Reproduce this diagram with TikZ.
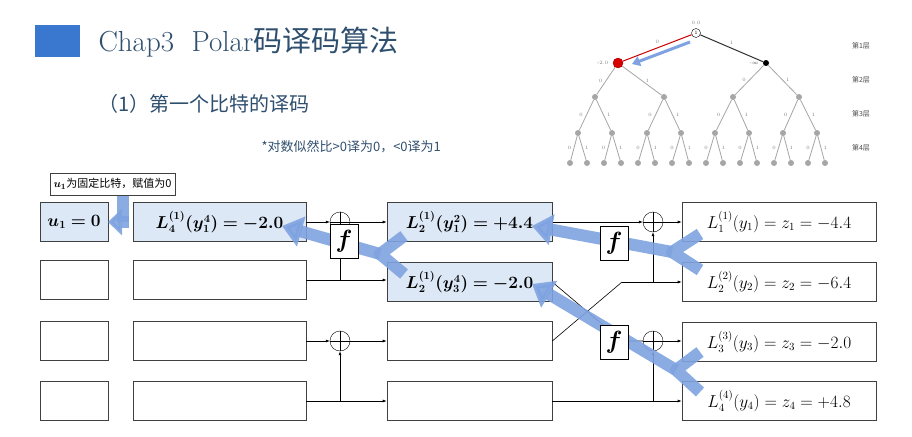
\documentclass[tikz,border=0pt]{standalone}
\usepackage{amsmath,bm}
\usepackage{fontspec}
\newfontfamily\cjk{Noto Sans CJK SC}
\usetikzlibrary{arrows.meta}
\definecolor{lb}{HTML}{DCE8F6}
\definecolor{ttl}{HTML}{2F4F6F}
\definecolor{sq}{HTML}{3A78D0}
\definecolor{ba}{HTML}{7FA3E0}
\begin{document}
\begin{tikzpicture}[x=1pt,y=-1pt,
  bx/.style={draw=black!75,line width=0.6pt,minimum height=39pt,inner sep=0pt,font=\fontsize{16}{18}\selectfont},
  c1/.style={bx,minimum width=68pt},
  c2/.style={bx,minimum width=173pt},
  c3/.style={bx,minimum width=165pt},
  c4/.style={bx,minimum width=194pt},
  hl/.style={fill=lb},
  xr/.style={draw,circle,minimum size=20pt,inner sep=0pt},
  fb/.style={draw,fill=white,minimum width=28pt,minimum height=34pt,inner sep=0pt,font=\fontsize{24}{26}\selectfont},
  ln/.style={line width=0.6pt,-{Latex[length=4pt]}},
  pl/.style={line width=0.6pt},
  tn/.style={circle,fill=black!35,inner sep=0pt,minimum size=6pt},
  te/.style={black!35,line width=0.8pt},
  tl/.style={font=\tiny,black!50},
  ba1/.style={ba,opacity=0.9,line width=12pt},
  bah/.style={ba1,-{Triangle[length=20pt,width=30pt]}}]
\useasboundingbox (0,0) rectangle (912,436);
\fill[white] (0,0) rectangle (912,436);
% title
\fill[sq] (35,25) rectangle (80,57);
\node[anchor=west,text=ttl,font=\fontsize{29}{31}\selectfont] (title) at (95,42) {Chap3\ \ Polar{\cjk 码译码算法}};
\node[anchor=west,text=ttl,font=\fontsize{20}{22}\selectfont\cjk] (sub) at (95,104) {（1）第一个比特的译码};
\node[anchor=west,text=ttl,font=\fontsize{13}{15}\selectfont\cjk] (note) at (258,147) {*对数似然比>0译为0，<0译为1};
% tree
\foreach \i/\x in {0/570,1/587,2/604,3/621,4/638,5/655,6/672,7/689,8/706,9/723,10/740,11/757,12/774,13/791,14/808,15/825}
  \node[tn] (d\i) at (\x,163) {};
\foreach \i/\x in {0/578,1/612,2/647,3/681,4/715,5/749,6/783,7/817}
  \node[tn] (c\i) at (\x,133) {};
\foreach \i/\x in {0/595,1/664,2/733,3/799}
  \node[tn] (b\i) at (\x,97) {};
\node[circle,fill=red!85!black,draw=red!60!black,minimum size=10pt,inner sep=0pt] (a0) at (618,63) {};
\node[circle,fill=black,minimum size=6pt,inner sep=0pt] (a1) at (766,63) {};
\node[circle,draw,fill=white,minimum size=9pt,inner sep=0pt,font=\tiny] (r) at (696,33) {1};
\node[tl,above=0pt] at (r.north) {0.0};
\node[tl,left=1pt] at (a0.west) {-2.0};
\node[tl,left=1pt] at (a1.west) {-∞};
\foreach \p/\l/\r in {b0/c0/c1,b1/c2/c3,b2/c4/c5,b3/c6/c7}{
  \draw[te] (\p)--(\l) node[midway,tl,left=0pt]{0}; \draw[te] (\p)--(\r) node[midway,tl,right=0pt]{1};}
\foreach \p/\l/\r in {c0/d0/d1,c1/d2/d3,c2/d4/d5,c3/d6/d7,c4/d8/d9,c5/d10/d11,c6/d12/d13,c7/d14/d15}{
  \draw[te] (\p)--(\l) node[midway,tl,left=-1pt]{0}; \draw[te] (\p)--(\r) node[midway,tl,right=-1pt]{1};}
\draw[te] (a0)--(b0) node[midway,tl,left=0pt]{0};
\draw[te] (a0)--(b1) node[midway,tl,right=0pt]{1};
\draw[te] (a1)--(b2) node[midway,tl,left=0pt]{0};
\draw[te] (a1)--(b3) node[midway,tl,right=0pt]{1};
\draw[red!80!black,line width=1pt] (r)--(a0) node[midway,tl,above=0pt]{0};
\draw[black!80,line width=1pt] (r)--(a1) node[midway,tl,above=0pt]{1};
\draw[ba,line width=3pt,-{Triangle[length=8pt,width=10pt]}] (690,42)--(632,64);
\foreach \k/\y in {1/46,2/80,3/114,4/148}
  \node[font=\fontsize{7}{8}\selectfont\cjk,text=black!70] (lay\k) at (861,\y) {第\k{}层};
% columns
\node[c1,hl] (u1) at (74,222) {$\bm{u_1=0}$};
\node[c1] (u2) at (74,280) {};
\node[c1] (u3) at (74,341) {};
\node[c1] (u4) at (74,401) {};
\node[c2,hl] (p1) at (219.5,222) {$\bm{L_4^{(1)}(y_1^4)=-2.0}$};
\node[c2] (p2) at (219.5,280) {};
\node[c2] (p3) at (219.5,341) {};
\node[c2] (p4) at (219.5,401) {};
\node[c3,hl] (q1) at (469.5,222) {$\bm{L_2^{(1)}(y_1^2)=+4.4}$};
\node[c3,hl] (q2) at (469.5,282) {$\bm{L_2^{(1)}(y_3^4)=-2.0}$};
\node[c3] (q3) at (469.5,341) {};
\node[c3] (q4) at (469.5,401) {};
\node[c4] (z1) at (779,222) {$L_1^{(1)}(y_1)=z_1=-4.4$};
\node[c4] (z2) at (779,282) {$L_2^{(2)}(y_2)=z_2=-6.4$};
\node[c4] (z3) at (779,342) {$L_3^{(3)}(y_3)=z_3=-2.0$};
\node[c4] (z4) at (779,401) {$L_4^{(4)}(y_4)=z_4=+4.8$};
% xors
\node[xr] (x1) at (340,222) {}; \draw[pl] (x1.north)--(x1.south) (x1.west)--(x1.east);
\node[xr] (x3) at (340,341) {}; \draw[pl] (x3.north)--(x3.south) (x3.west)--(x3.east);
\node[xr] (x5) at (653,222) {}; \draw[pl] (x5.north)--(x5.south) (x5.west)--(x5.east);
\node[xr] (x7) at (653,341) {}; \draw[pl] (x7.north)--(x7.south) (x7.west)--(x7.east);
% stage 1 wiring
\draw[ln] (p1.east)--(x1.west); \draw[ln] (x1.east)--(q1.west);
\draw[ln] (p2.east)--(q2.west|-p2.east);
\draw[ln] (x1.south|-p2.east)--(x1.south);
\draw[ln] (p3.east)--(x3.west); \draw[ln] (x3.east)--(q3.west);
\draw[ln] (p4.east)--(q4.west);
\draw[ln] (x3.south|-p4.east)--(x3.south);
% stage 2 wiring
\coordinate (k2) at (622,282);
\coordinate (k3) at (622,341);
\draw[ln] (q1.east)--(x5.west); \draw[ln] (x5.east)--(z1.west);
\draw[pl] (q3.east)--(k2); \draw[ln] (k2)--(z2.west);
\draw[ln] (x5.south|-k2)--(x5.south);
\draw[pl] (q2.east)--(k3)--(x7.west); \draw[ln] (x7.east)--(z3.west|-x7.east);
\draw[ln] (q4.east)--(z4.west);
\draw[ln] (x7.south|-q4.east)--(x7.south);
% blue arrows
\draw[ba1,line join=round] (700,234)--(672,252)--(700,270);
\draw[bah] (672,252)--(532,226);
\draw[ba1,line join=round] (700,352)--(676,370)--(700,392);
\draw[bah] (676,370)--(532,284);
\draw[ba1,line join=round] (404,236)--(380,254)--(404,274);
\draw[bah] (380,254)--(282,226);
\draw[ba1] (123,195)--(123,222);
\draw[ba1,-{Triangle[length=14pt,width=26pt]}] (129,222)--(108,222);
% f boxes
\node[fb] (f1) at (344,241) {$\bm{f}$};
\node[fb] (f2) at (614,243) {$\bm{f}$};
\node[fb] (f3) at (614,342) {$\bm{f}$};
% callout
\node[draw=black!75,fill=white,anchor=west,minimum height=22pt,font=\fontsize{11}{13}\selectfont\cjk] (call) at (50,184) {$\bm{u_1}$为固定比特，赋值为0};
\end{tikzpicture}
\end{document}
